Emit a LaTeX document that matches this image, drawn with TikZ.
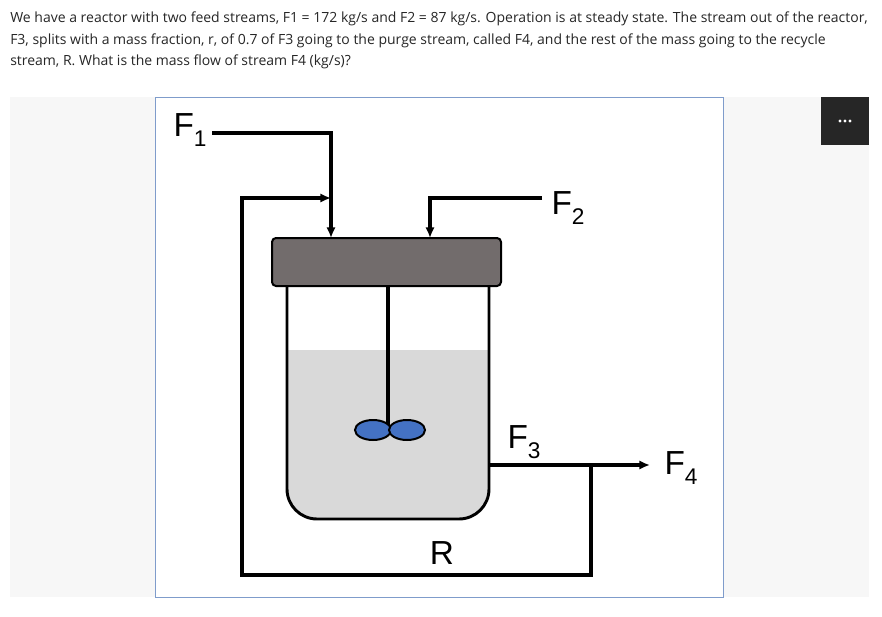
\documentclass[tikz,border=0pt]{standalone}
\usepackage{fontspec}
\usetikzlibrary{arrows.meta}
\setmainfont{Open Sans}
\newfontfamily\arialf{Liberation Sans}
\definecolor{lidc}{HTML}{726C6C}
\definecolor{bluec}{HTML}{4472C4}
\definecolor{frame}{HTML}{7F9CCB}
\newcommand{\sbx}[1]{\raisebox{-7pt}{\fontsize{17}{20}\selectfont #1}}
\begin{document}
\begin{tikzpicture}[x=0.75pt,y=-0.75pt,
  pipe/.style={line width=2.4pt},
  arr/.style={pipe,-{Latex[length=8pt,width=7pt]}},
  lbl/.style={font=\arialf\fontsize{25}{28}\selectfont,inner sep=0pt},
  para/.style={font=\fontsize{10.5}{12}\selectfont,anchor=west,inner sep=0pt,text=black!85}]
\useasboundingbox (0,0) rectangle (882,617);
\fill[white] (0,0) rectangle (882,617);
\node[para] (t1) at (10,19) {We have a reactor with two feed streams, F1 = 172 kg/s and F2 = 87 kg/s. Operation is at steady state. The stream out of the reactor,};
\node[para] (t2) at (10,41) {F3, splits with a mass fraction, r, of 0.7 of F3 going to the purge stream, called F4, and the rest of the mass going to the recycle};
\node[para] (t3) at (10,62) {stream, R. What is the mass flow of stream F4 (kg/s)?};
\fill[black!3] (10,97) rectangle (869,597);
\draw[fill=white,draw=frame] (155,97) rectangle (723,597);
\fill[black!85] (821,97) rectangle (869,145);
\foreach \i in {-5,0,5} \fill[white] (845+\i,121) circle (1.6);
% vessel
\fill[black!15,rounded corners=30*0.75pt] (287,350) -- (287,519) -- (489,519) [sharp corners] -- (489,350) -- cycle;
\draw[line width=2.2pt,rounded corners=30*0.75pt] (287,286) -- (287,519) -- (489,519) [sharp corners] -- (489,286);
\draw[line width=1.5pt,fill=lidc,rounded corners=3pt] (272,238) rectangle (501,286);
\coordinate (lidL) at (331,238);
\coordinate (lidR) at (430,238);
\draw[line width=2.8pt] (388,286) -- (388,430);
\draw[line width=1.5pt,fill=bluec] (373,430) ellipse (18 and 10);
\draw[line width=1.5pt,fill=bluec] (407,430) ellipse (18 and 10);
% labels
\node[lbl] (F1) at (190,130) {F\sbx{1}};
\node[lbl] (F2) at (568,208) {F\sbx{2}};
\node[lbl] (F3) at (524,442) {F\sbx{3}};
\node[lbl] (F4) at (681,468) {F\sbx{4}};
\node[lbl] (R) at (442,553) {R};
% streams
\coordinate (a1) at (212,133);
\draw[arr] (a1) -- (331,133) -- (lidL);
\coordinate (a2) at (542,198);
\draw[arr] (a2) -- (430,198) -- (lidR);
\coordinate (s3) at (489,465);
\coordinate (e3) at (650,465);
\draw[arr] (s3) -- (e3);
\coordinate (r0) at (591,465);
\draw[arr] (r0) -- (591,575) -- (242,575) -- (242,198) -- (331,198);
\end{tikzpicture}
\end{document}
